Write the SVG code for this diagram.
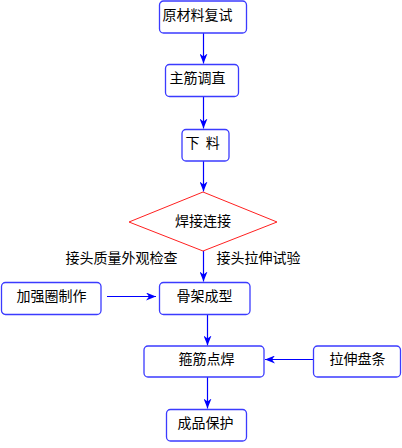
<svg xmlns="http://www.w3.org/2000/svg" width="402" height="448" viewBox="0 0 402 448">
<style>
.box{fill:#fff;stroke:#3b3bff;stroke-width:1.3}
.dia{fill:#fff;stroke:#ff2020;stroke-width:1}
.t{font-family:"Noto Sans CJK SC","Liberation Sans",sans-serif;font-size:14px;fill:#000}
.c{stroke:#0000ff;stroke-width:1.2;fill:none}
</style>
<defs>
<marker id="ah" markerWidth="10" markerHeight="8" refX="10" refY="4" orient="auto" markerUnits="userSpaceOnUse">
<path d="M0,0 L10,4 L0,8 L3,4 Z" fill="#0000ff"/>
</marker>
</defs>
<rect width="402" height="448" fill="#fff"/>
<g id="connectors">
<line class="c" x1="203.5" y1="33" x2="203.5" y2="63.5" marker-end="url(#ah)"/>
<line class="c" x1="203.5" y1="96" x2="203.5" y2="128.5" marker-end="url(#ah)"/>
<line class="c" x1="203.5" y1="161" x2="203.5" y2="191.5" marker-end="url(#ah)"/>
<line class="c" x1="203.5" y1="251" x2="203.5" y2="281.5" marker-end="url(#ah)"/>
<line class="c" x1="107" y1="296.5" x2="156" y2="296.5" marker-end="url(#ah)"/>
<line class="c" x1="207.5" y1="314" x2="207.5" y2="345.5" marker-end="url(#ah)"/>
<line class="c" x1="313" y1="359.5" x2="265" y2="359.5" marker-end="url(#ah)"/>
<line class="c" x1="207.5" y1="377" x2="207.5" y2="408.5" marker-end="url(#ah)"/>
</g>
<g id="n1"><rect class="box" x="159.5" y="1" width="87" height="32" rx="4"/><text class="t" x="162.5" y="20">原材料复试</text></g>
<g id="n2"><rect class="box" x="165.5" y="64.5" width="73" height="32" rx="4"/><text class="t" x="169.5" y="83">主筋调直</text></g>
<g id="n3"><rect class="box" x="182" y="129.5" width="47" height="31.5" rx="4"/><text class="t" x="185.5" y="148" xml:space="preserve">下  料</text></g>
<g id="n4"><polygon class="dia" points="203,192 277,222 203,251 129,222"/><text class="t" x="203" y="226" text-anchor="middle">焊接连接</text></g>
<text class="t" x="65.5" y="263">接头质量外观检查</text>
<text class="t" x="216.5" y="263">接头拉伸试验</text>
<g id="n5"><rect class="box" x="159.5" y="282.5" width="90.5" height="32" rx="4"/><text class="t" x="176.5" y="301">骨架成型</text></g>
<g id="n6"><rect class="box" x="1.5" y="282.5" width="99.5" height="32" rx="4"/><text class="t" x="16.5" y="301">加强圈制作</text></g>
<g id="n7"><rect class="box" x="144" y="346" width="120" height="31" rx="4"/><text class="t" x="178.5" y="364">箍筋点焊</text></g>
<g id="n8"><rect class="box" x="313.5" y="346" width="87" height="31" rx="4"/><text class="t" x="329.5" y="364">拉伸盘条</text></g>
<g id="n9"><rect class="box" x="166.5" y="409.5" width="80" height="31.5" rx="4"/><text class="t" x="177.5" y="428">成品保护</text></g>
</svg>
